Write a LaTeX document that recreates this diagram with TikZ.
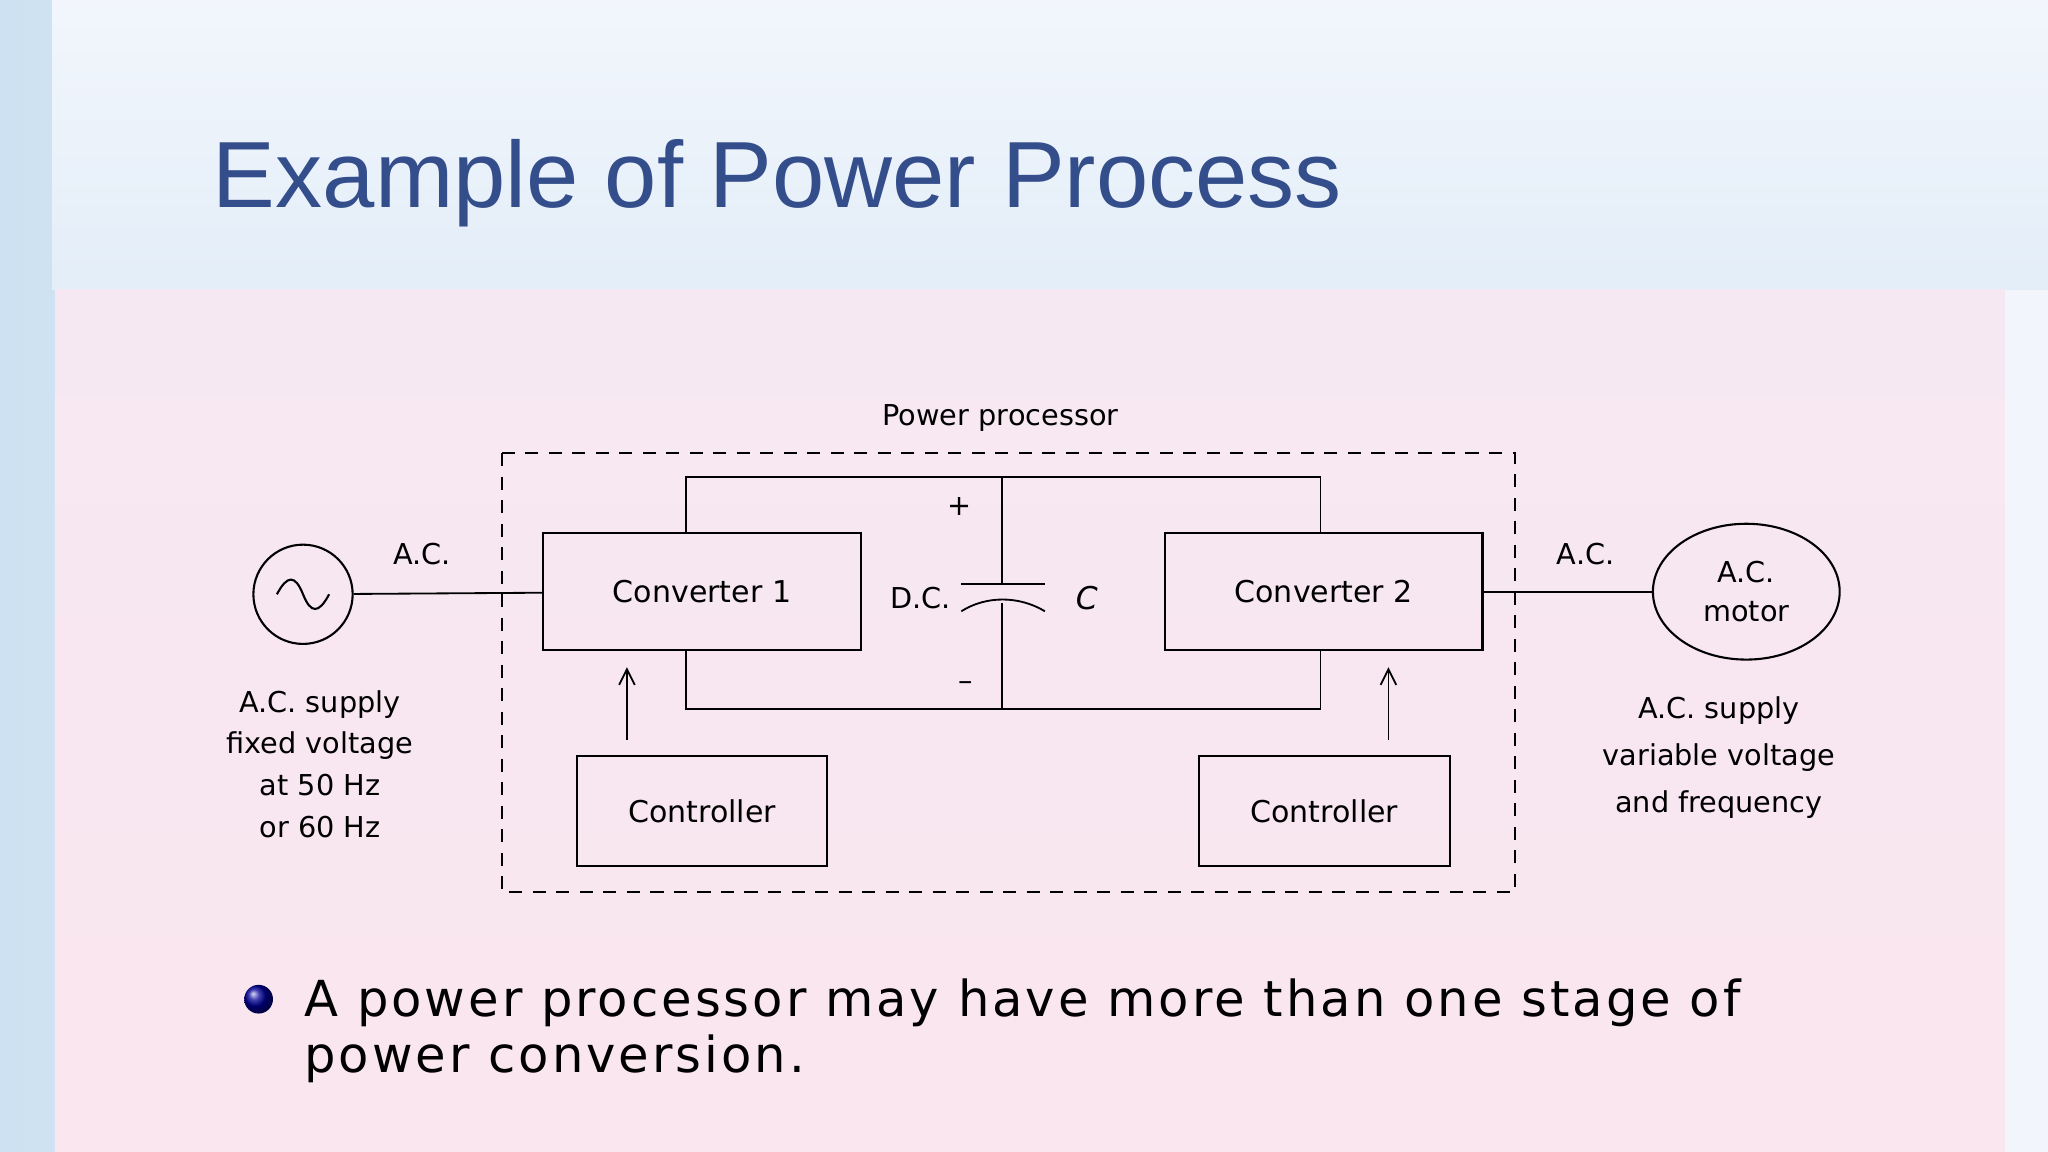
\documentclass[tikz,border=0pt]{standalone}
\usepackage{fontspec}
\setmainfont{DejaVu Sans}
\newfontfamily\titlefont{Liberation Sans}
\newfontfamily\widefont[LetterSpace=6]{DejaVu Sans}
\usetikzlibrary{arrows.meta,shapes.geometric}
\definecolor{titleblue}{RGB}{52,78,140}
\definecolor{panel}{RGB}{250,230,238}
\definecolor{panelTop}{RGB}{246,232,242}
\definecolor{bgA}{RGB}{205,225,242}
\definecolor{bgB}{RGB}{242,246,252}
\begin{document}
\begin{tikzpicture}[x=0.5pt,y=-0.5pt,
  box/.style={draw,line width=0.8pt,minimum width=121.5pt,minimum height=45pt,font=\fontsize{11.5}{14}\selectfont},
  ctl/.style={draw,line width=0.8pt,minimum width=96pt,minimum height=42pt,font=\fontsize{11.5}{14}\selectfont},
  wire/.style={line width=0.7pt},
  lbl/.style={font=\fontsize{11}{14}\selectfont},
  arr/.style={line width=0.7pt,-{Straight Barb[length=6pt,width=6pt]}}]
\useasboundingbox (0,0) rectangle (1568,882);
\shade[left color=bgA,right color=bgB,middle color=bgB] (0,0) rectangle (1568,882);
\shade[top color=bgB,bottom color=bgB!60!bgA] (40,0) rectangle (1568,222);
\shade[top color=panelTop,bottom color=panel] (42,222) rectangle (1535,882);
\node[anchor=west,text=titleblue,font=\titlefont\fontsize{36}{40}\selectfont] (title) at (156,140) {Example of Power Process};
% dashed box
\draw[dashed,line width=0.8pt,dash pattern=on 5pt off 4pt] (384,347) rectangle (1160,683);
\node[lbl] (pp) at (766,320) {Power processor};
\node[box] (c1) at (537.5,453) {Converter 1};
\node[box] (c2) at (1013.5,453) {Converter 2};
\node[ctl] (k1) at (537.5,621) {Controller};
\node[ctl] (k2) at (1014,621) {Controller};
% rails
\coordinate (t1) at (525,365); \coordinate (t2) at (1011,365);
\coordinate (b1) at (525,543); \coordinate (b2) at (1011,543);
\draw[wire] (c1.north -| t1) -- (t1) -- (t2) -- (c2.north -| t2);
\draw[wire] (c1.south -| b1) -- (b1) -- (b2) -- (c2.south -| b2);
\coordinate (cp1) at (767,447); \coordinate (cp2) at (767,462);
\draw[wire] (767,365) -- (cp1);
\draw[wire] (736,447) -- (800,447);
\draw[wire] (736,468) .. controls (755,456) and (780,456) .. (800,468);
\draw[wire] (cp2) -- (767,543);
\node[lbl] (plus) at (735,388) {+};
\node[lbl] (minus) at (739,525) {--};
\node[lbl] (dc) at (705,458) {D.C.};
\node[lbl,font=\fontsize{12}{14}\selectfont\itshape] (cc) at (832,458) {C};
% source
\node[circle,draw,line width=0.8pt,minimum size=38pt] (src) at (232,455) {};
\draw[line width=0.8pt] (212,455) .. controls (220,440) and (226,440) .. (232,455) .. controls (238,470) and (244,470) .. (252,455);
\draw[wire] (src) -- (c1);
\node[lbl] (ac1) at (323,424) {A.C.};
% motor
\node[ellipse,draw,line width=0.8pt,minimum width=71.5pt,minimum height=52pt,align=center,lbl] (mot) at (1337,453) {A.C.\\[1pt]motor};
\draw[wire] (c2) -- (mot);
\node[lbl] (ac2) at (1214,424) {A.C.};
% arrows
\draw[arr,shorten <=6pt,shorten >=6pt] (k1.north -| 480,0) -- (c1.south -| 480,0);
\draw[arr,shorten <=6pt,shorten >=6pt] (k2.north -| 1063,0) -- (c2.south -| 1063,0);
% texts
\node[lbl,align=center] (lt) at (245,585) {A.C. supply\\[2pt]fixed voltage\\[2pt]at 50 Hz\\[2pt]or 60 Hz};
\node[lbl,align=center] (rt) at (1316,580) {A.C. supply\\[4pt]variable voltage\\[4pt]and frequency};
% bullet
\shade[ball color=blue!60!black] (198,765) circle (5.5pt);
\node[anchor=north west,align=left,font=\widefont\fontsize{19}{21.5}\selectfont] (bt) at (226,742) {A power processor may have more than one stage of\\power conversion.};
\end{tikzpicture}
\end{document}
